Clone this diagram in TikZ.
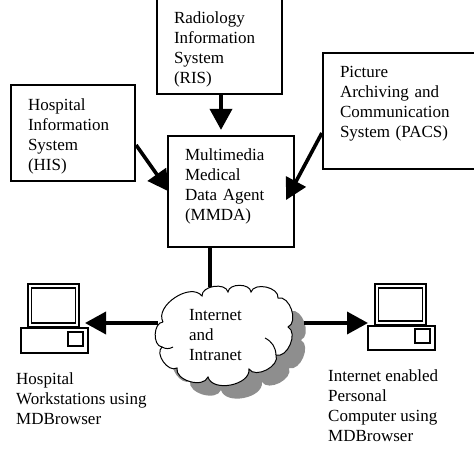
\documentclass[tikz,border=0pt]{standalone}
\usepackage{fontspec}
\setmainfont{Liberation Serif}
\usetikzlibrary{arrows.meta}
\definecolor{cloudshade}{HTML}{8E8E8E}
\newcommand{\cloudoutline}{(163,322) to (202,296) to (228,292) to (251,292) to (278,298)
  to (288,327) to (276,355) to (249,369) to (208,377) to (177,368) to (162,347) to (163,322)}
\tikzset{
  sysbox/.style={draw, line width=2.2pt, inner xsep=17pt, inner ysep=0pt, align=left, font=\fontsize{17}{20}\selectfont},
  plaintext/.style={inner sep=0pt, align=left, font=\fontsize{17}{20}\selectfont},
  pcpart/.style={draw, line width=1.6pt, inner sep=0pt},
  flow/.style={line width=3.6pt, -{Triangle[length=21pt,width=22pt]}},
  link/.style={line width=3.6pt}
}

\begin{document}
\begin{tikzpicture}[x=1pt, y=-1pt]
    \useasboundingbox (0,0) rectangle (474,460);

    % the four systems
    \node[sysbox, minimum width=125pt, minimum height=96pt, text width=91pt] (ris) at (219.5,46) {%
      \rule{0pt}{18pt}Radiology\\Information\\System\\(RIS)};
    \node[sysbox, minimum width=124pt, minimum height=96pt, text width=90pt] (his) at (73,133) {%
      \rule{0pt}{18pt}Hospital\\Information\\System\\(HIS)};
    \node[sysbox, minimum width=157pt, minimum height=116pt, text width=123pt,
          execute at end node={\par\vspace{14pt}}] (pacs) at (401.5,111) {%
      Picture\\Archiving and\\Communication\\System (PACS)};
    \node[sysbox, minimum width=126pt, minimum height=111pt, text width=92pt,
          execute at end node={\par\vspace{10pt}}] (mmda) at (231,191.5) {%
      Multimedia\\Medical\\Data Agent\\(MMDA)};

    % cloud
    \begin{scope}[every to/.style={bend left=85}]
      \fill[cloudshade, shift={(13,13)}] \cloudoutline;
      \draw[fill=white, line width=1pt] \cloudoutline;
      \draw[line width=1pt] (265,338) to[bend left=30] (276,355);
      \draw[line width=1pt] (162,347) to[bend right=30] (173,347);
    \end{scope}
    \node[plaintext, minimum width=136pt, minimum height=104pt, inner xsep=31pt, text width=74pt] (cloud) at (226,335) {%
      Internet\\and\\Intranet};

    % left computer
    \node[pcpart, minimum width=51pt, minimum height=43pt] (hwscreen) at (53.5,305.5) {};
    \node[pcpart, minimum width=44pt, minimum height=35pt] (hwpanel) at (hwscreen) {};
    \node[pcpart, minimum width=67pt, minimum height=25pt] (hwbase) at (54.5,340.5) {};
    \node[pcpart, minimum width=15pt, minimum height=14pt] (hwslot) at (75.5,339) {};
    % right computer
    \node[pcpart, minimum width=51pt, minimum height=41pt] (pcscreen) at (400.5,304.5) {};
    \node[pcpart, minimum width=44pt, minimum height=33pt] (pcpanel) at (pcscreen) {};
    \node[pcpart, minimum width=67pt, minimum height=24pt] (pcbase) at (401.5,338) {};
    \node[pcpart, minimum width=15pt, minimum height=14pt] (pcslot) at (422.5,336) {};

    \node[plaintext, anchor=west] (hwlabel) at (16,399) {Hospital\\Workstations using\\MDBrowser};
    \node[plaintext, anchor=west] (pclabel) at (328,406) {Internet enabled\\Personal\\Computer using\\MDBrowser};

    \coordinate (hwport) at (85,323);
    \coordinate (pcport) at (368,323);

    \draw[flow, shorten >=5pt] ([xshift=1.5pt]ris.south) -- ([xshift=1.5pt]ris.south |- mmda.north);
    \draw[flow] ([yshift=-12pt]his.east) -- ([xshift=2pt]mmda.west);
    \draw[flow] ([yshift=-22pt]pacs.west) -- ([xshift=-9pt,yshift=-8.5pt]mmda.east);
    \draw[link, shorten >=-4pt] ([xshift=-21pt]mmda.south) -- ([xshift=-21pt]mmda.south |- cloud.north);
    \draw[flow] (cloud.west |- hwport) -- (hwport);
    \draw[flow, shorten <=10pt] (cloud.east |- pcport) -- (pcport);
  \end{tikzpicture}
\end{document}
